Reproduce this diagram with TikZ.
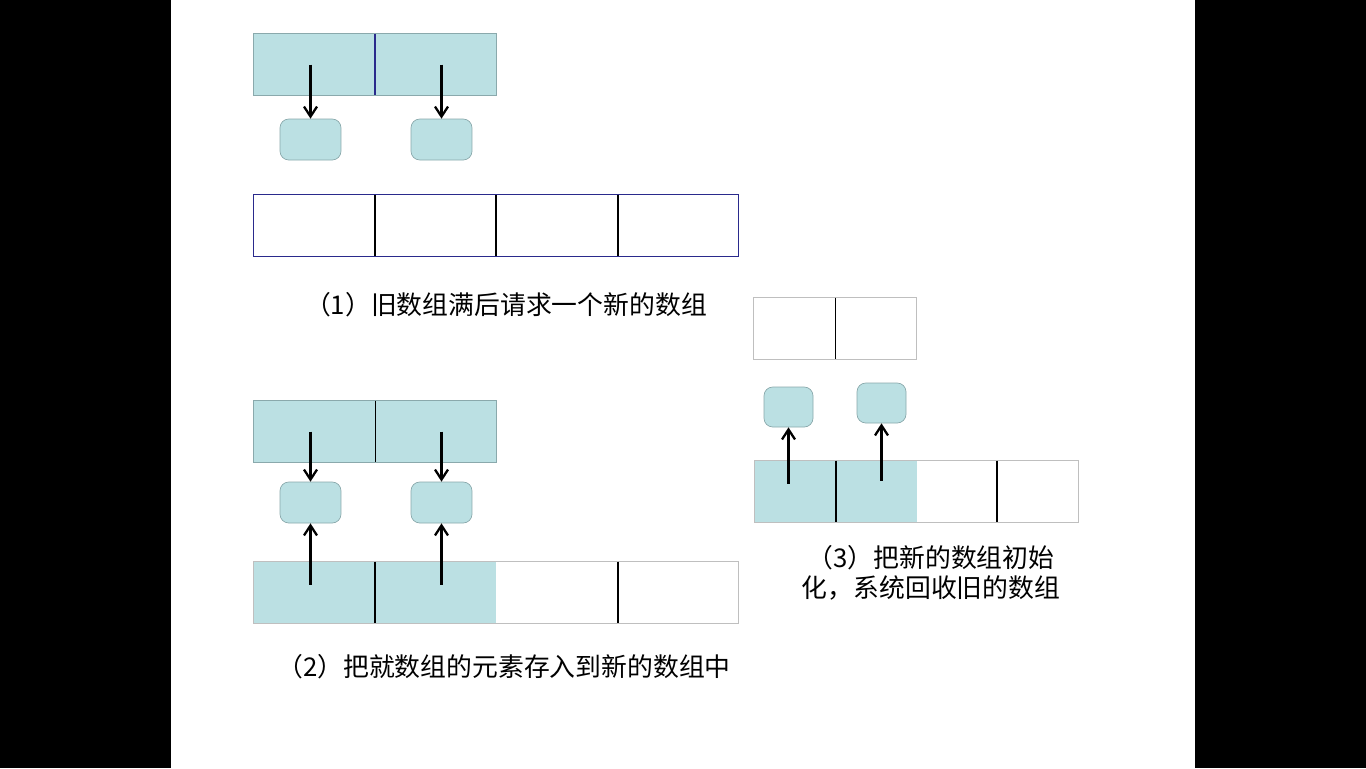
\documentclass[tikz,border=0pt]{standalone}
\usepackage{fontspec}
\usepackage{tikz}
\usetikzlibrary{positioning,arrows.meta,calc}
\newfontfamily\cjk{Noto Sans CJK SC}
\definecolor{cellfill}{HTML}{BBE0E3}
\definecolor{cellline}{HTML}{8AA9AC}
\definecolor{navy}{HTML}{2A2A8C}
\definecolor{frame}{HTML}{BFBFBF}

\begin{document}
\begin{tikzpicture}[
  x=0.02cm,y=-0.02cm,
  font=\cjk\fontsize{14.7pt}{17pt}\selectfont,
  cell/.style={inner sep=0pt,minimum width=2.42cm,minimum height=1.22cm},
  full/.style={cell,fill=cellfill},
  smallcell/.style={inner sep=0pt,minimum width=1.62cm,minimum height=1.22cm},
  elem/.style={draw=cellline,fill=cellfill,rounded corners=5pt,inner sep=0pt,minimum width=1.22cm,minimum height=0.82cm},
  smallelem/.style={elem,minimum width=0.98cm,minimum height=0.8cm},
  arr/.style={-{Straight Barb[length=2mm,width=2.6mm]},line width=1.3pt,draw=black},
  sep/.style={line width=1.1pt,draw=black},
  lbl/.style={align=center}]
  % page
  \fill[black] (0,0) rectangle (1366,768);
  \fill[white] (171,0) rectangle (1195,768);

  % (1)
  \node[full] (a1) at (314.5,64.5) {};
  \node[full] (a2) at (436,64.5) {};
  \draw[cellline] (a1.north west) rectangle (a2.south east);
  \draw[navy,line width=1pt] (a1.north east) -- (a1.south east);
  \node[elem] (e1) at (310.5,139.5) {};
  \node[elem] (e2) at (441.5,139.5) {};
  \draw[arr] (e1.north |- a1.center) -- (e1.north);
  \draw[arr] (e2.north |- a2.center) -- (e2.north);
  \node[cell] (b1) at (314.5,225.5) {};
  \node[cell] (b2) at (435.5,225.5) {};
  \node[cell] (b3) at (557,225.5) {};
  \node[cell] (b4) at (678,225.5) {};
  \draw[navy] (b1.north west) rectangle (b4.south east);
  \foreach \c in {b1,b2,b3} \draw[sep] (\c.north east) -- (\c.south east);
  \node[lbl] (cap1) at (506,305) {（1）旧数组满后请求一个新的数组};

  % (2)
  \node[full] (c1) at (314.5,431.5) {};
  \node[full] (c2) at (436,431.5) {};
  \draw[cellline] (c1.north west) rectangle (c2.south east);
  \draw[black] (c1.north east) -- (c1.south east);
  \node[elem] (f1) at (310.5,502.5) {};
  \node[elem] (f2) at (441.5,502.5) {};
  \draw[arr] (f1.north |- c1.center) -- (f1.north);
  \draw[arr] (f2.north |- c2.center) -- (f2.north);
  \node[full] (d1) at (314.5,592.5) {};
  \node[full] (d2) at (435.5,592.5) {};
  \node[cell] (d3) at (557,592.5) {};
  \node[cell] (d4) at (678,592.5) {};
  \draw[frame] (d1.north west) rectangle (d4.south east);
  \foreach \c in {d1,d3} \draw[sep] (\c.north east) -- (\c.south east);
  \draw[arr] ($(f1.south |- d1.center)+(0,-8)$) -- (f1.south);
  \draw[arr] ($(f2.south |- d2.center)+(0,-8)$) -- (f2.south);
  \node[lbl] (cap2) at (504,667) {（2）把就数组的元素存入到新的数组中};

  % (3)
  \node[smallcell] (g1) at (794.5,328.5) {};
  \node[smallcell] (g2) at (875.5,328.5) {};
  \draw[frame] (g1.north west) rectangle (g2.south east);
  \draw[black] (g1.north east) -- (g1.south east);
  \node[smallelem] (h1) at (788.5,407) {};
  \node[smallelem] (h2) at (881.5,403) {};
  \node[smallcell,fill=cellfill] (k1) at (795,491.5) {};
  \node[smallcell,fill=cellfill] (k2) at (876,491.5) {};
  \node[smallcell] (k3) at (956.5,491.5) {};
  \node[smallcell] (k4) at (1037,491.5) {};
  \draw[frame] (k1.north west) rectangle (k4.south east);
  \foreach \c in {k1,k3} \draw[sep] (\c.north east) -- (\c.south east);
  \draw[arr] ($(h1.south |- k1.center)+(0,-8)$) -- (h1.south);
  \draw[arr] ($(h2.south |- k2.center)+(0,-11)$) -- (h2.south);
  \node[lbl] (cap3) at (931,573) {（3）把新的数组初始\\化，系统回收旧的数组};
\end{tikzpicture}
\end{document}
